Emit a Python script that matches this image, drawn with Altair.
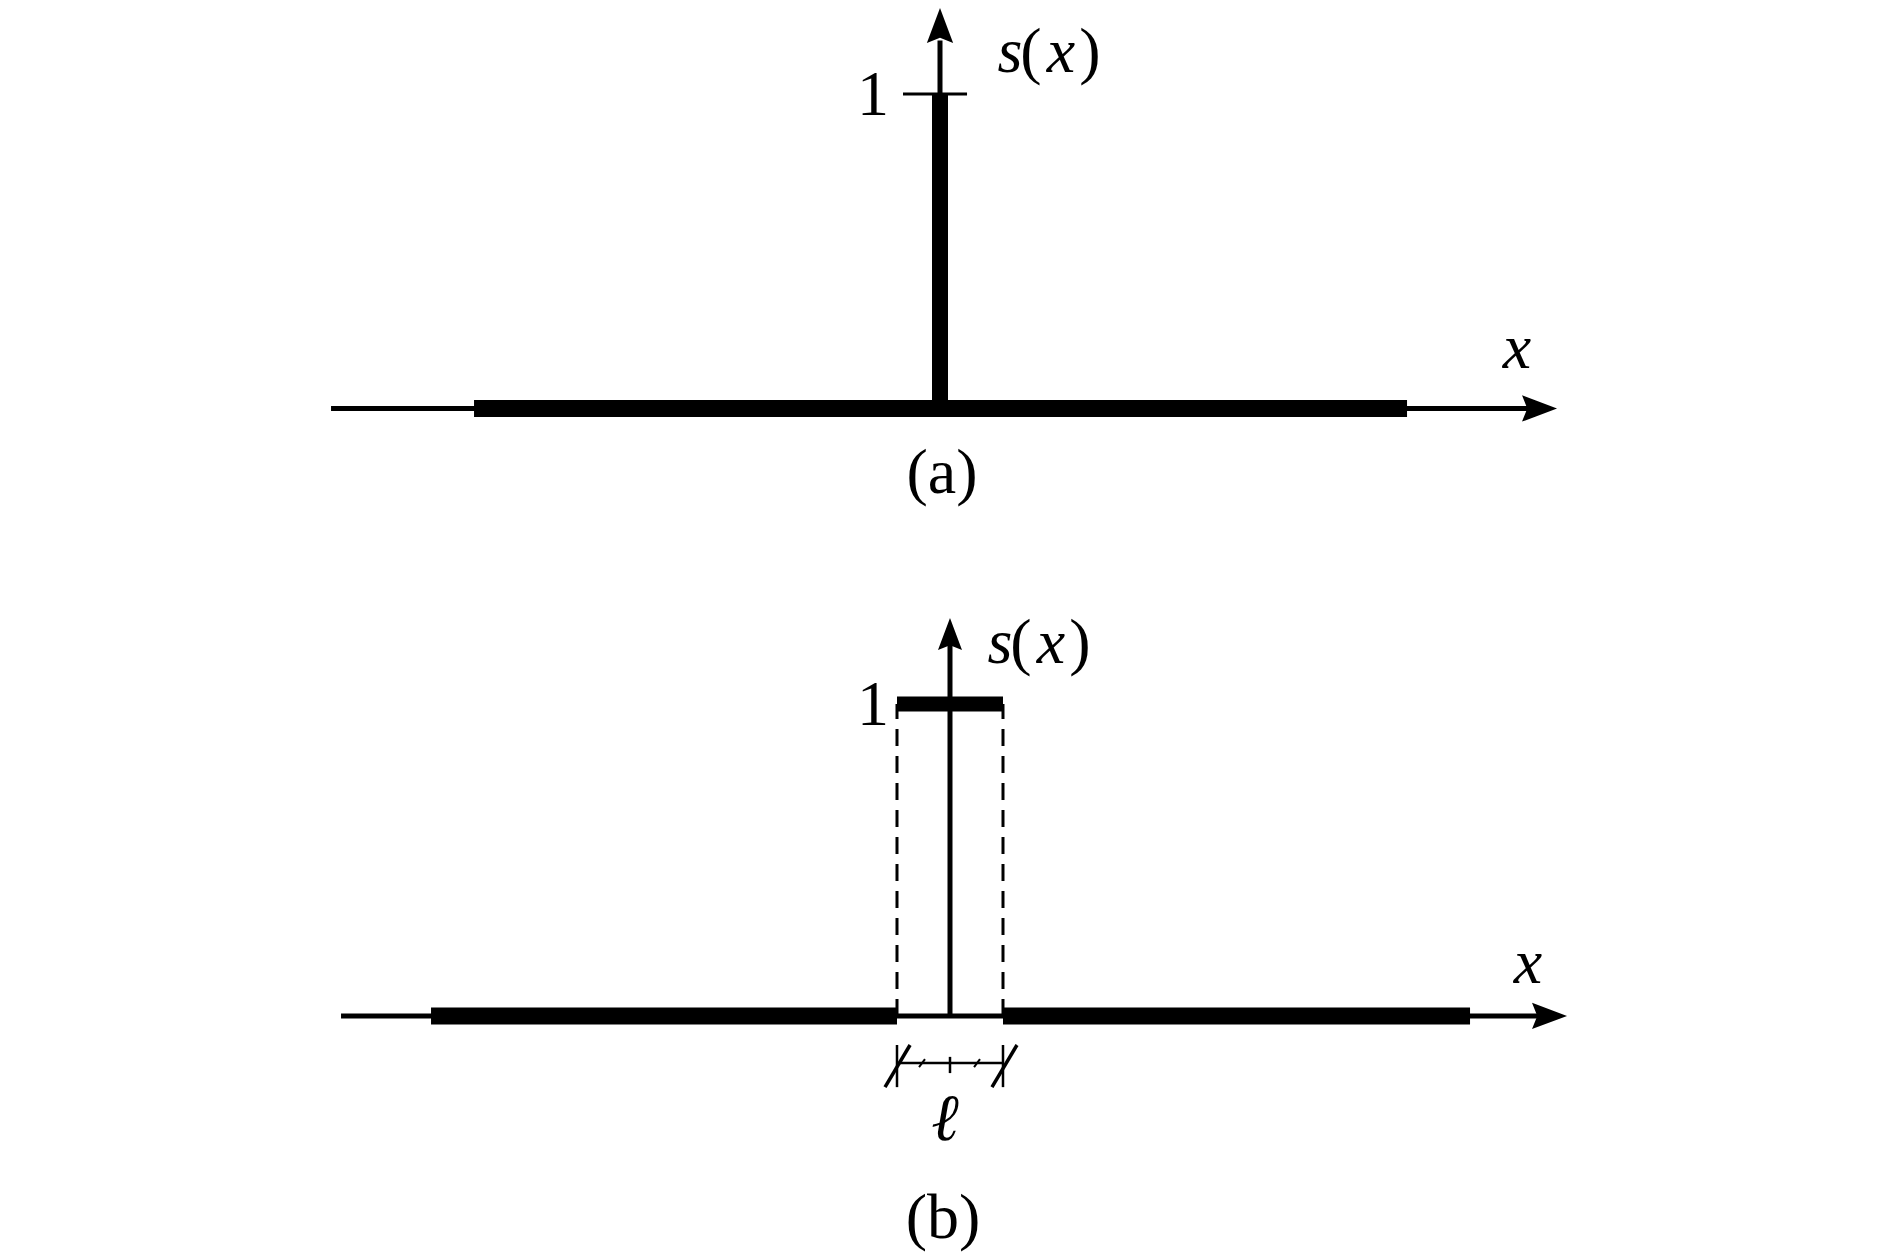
import altair as alt
import pandas as pd

# ---------------- data (x in units of the pulse width l, y = signal value s) -------------
# Panel (a): impulse-like spike of height 1
a_axis_line = [(-5.745, 5.566, 0.0, 0.0)]            # thin x axis (x, x2, y, y2)
a_thick = [(-4.396, 4.406, 0.0, 0.0)]                 # thick support segment
a_spike = [(0.0, 0.0, 0.0, 1.0)]                      # s(0)=1 spike
a_vaxis = [(0.0, 0.0, 0.0, 1.17)]                     # thin vertical axis
a_tick = [(-0.349, 0.255, 1.0, 1.0)]                  # tick at level 1
a_arrow_right = [(5.821, 0.0)]
a_arrow_up = [(0.0, 1.2734)]
a_labels_num = [(-0.481, 0.933, "1")]
a_sx_anchor = [(0.547, 1.070)]
a_xlabel = [(5.443, 0.1288, "x")]
a_caption = [(0.019, -0.2687, "(a)")]
a_xdom = [-8.7925, 8.8868]
a_ydom = [-0.4817, 1.2734]

# Panel (b): rectangular pulse of width l and height 1
b_axis_line = [(-5.745, 5.566, 0.0, 0.0)]
b_thick = [(-4.896, -0.5, 0.0, 0.0), (0.5, 4.906, 0.0, 0.0)]
b_top = [(-0.5, 0.5, 1.0, 1.0)]
b_dashed = [(-0.5, -0.5, 0.0, 1.0), (0.5, 0.5, 0.0, 1.0)]
b_vaxis = [(0.0, 0.0, 0.0, 1.189)]
b_dim = [(-0.5, 0.5, -0.151, -0.151),
         (-0.5, -0.5, -0.093, -0.228), (0.5, 0.5, -0.093, -0.228),
         (0.0, 0.0, -0.131, -0.183)]
b_slash = [(-0.613, -0.377, -0.228, -0.093), (0.396, 0.632, -0.228, -0.093)]
b_small = [(-0.292, -0.236, -0.164, -0.138), (0.227, 0.283, -0.164, -0.138)]
b_arrow_right = [(5.821, 0.0)]
b_arrow_up = [(0.0, 1.2756)]
b_labels_num = [(-0.575, 0.933, "1")]
b_sx_anchor = [(0.358, 1.131)]
b_xlabel = [(5.453, 0.106, "x")]
b_ell = [(-0.047, -0.397, "ℓ")]
b_caption = [(-0.066, -0.712, "(b)")]
b_xdom = [-8.8868, 8.7925]
b_ydom = [-0.7532, 1.4615]

FONT = "Liberation Serif, Times New Roman, serif"
FS = 64
ARROW_R = "M 1 0 L -1 -0.75 L -0.7 0 L -1 0.75 Z"
ARROW_U = "M 0 -1 L -0.75 1 L 0 0.7 L 0.75 1 Z"


def seg_df(rows):
    return pd.DataFrame(rows, columns=["x", "x2", "y", "y2"])


def pt_df(rows):
    return pd.DataFrame(rows, columns=["x", "y"])


def txt_df(rows):
    return pd.DataFrame(rows, columns=["x", "y", "t"])


def panel(xdom, ydom, width, height, parts):
    xs = alt.Scale(domain=xdom, zero=False, nice=False)
    ys = alt.Scale(domain=ydom, zero=False, nice=False)

    def seg(rows, w, dash=None):
        kw = dict(color="black", strokeWidth=w, strokeCap="butt")
        if dash:
            kw["strokeDash"] = dash
        return alt.Chart(seg_df(rows)).mark_rule(**kw).encode(
            x=alt.X("x:Q", scale=xs, axis=None), x2="x2:Q",
            y=alt.Y("y:Q", scale=ys, axis=None), y2="y2:Q")

    def arrow(rows, shape, xo=0, yo=0, size=1225):
        return alt.Chart(pt_df(rows)).mark_point(
            shape=shape, filled=True, size=size, color="black", opacity=1,
            strokeWidth=0, xOffset=xo, yOffset=yo).encode(
            x=alt.X("x:Q", scale=xs, axis=None), y=alt.Y("y:Q", scale=ys, axis=None))

    def txt(rows, align="center", style="normal", fs=FS, dx=0):
        return alt.Chart(txt_df(rows)).mark_text(
            font=FONT, fontSize=fs, fontStyle=style, align=align,
            baseline="alphabetic", color="black", dx=dx).encode(
            x=alt.X("x:Q", scale=xs, axis=None), y=alt.Y("y:Q", scale=ys, axis=None),
            text="t:N")

    layers = []
    for p in parts:
        kind = p[0]
        if kind == "seg":
            layers.append(seg(*p[1:]))
        elif kind == "arrow":
            layers.append(arrow(*p[1:]))
        elif kind == "txt":
            layers.append(txt(p[1], **p[2]))
        elif kind == "sx":
            x0, y0 = p[1][0]
            layers.append(txt([(x0, y0, "s")], align="center", style="italic", dx=12))
            layers.append(txt([(x0, y0, "(")], align="center", dx=33))
            layers.append(txt([(x0, y0, "x")], align="center", style="italic", dx=63))
            layers.append(txt([(x0, y0, ")")], align="center", dx=92))
    return alt.layer(*layers).properties(width=width, height=height)


panel_a = panel(a_xdom, a_ydom, 1874, 552, [
    ("seg", a_axis_line, 5),
    ("seg", a_thick, 17),
    ("seg", a_vaxis, 5),
    ("seg", a_spike, 16),
    ("seg", a_tick, 3),
    ("arrow", a_arrow_right, ARROW_R, -17.5, 0, 1225),
    ("arrow", a_arrow_up, ARROW_U, 0, 17.5, 1225),
    ("txt", a_labels_num, dict(align="right")),
    ("sx", a_sx_anchor),
    ("txt", a_xlabel, dict(style="italic")),
    ("txt", a_caption, dict()),
])

panel_b = panel(b_xdom, b_ydom, 1874, 691, [
    ("seg", b_axis_line, 5),
    ("seg", b_thick, 17),
    ("seg", b_dashed, 3, [17, 10]),
    ("seg", b_vaxis, 5),
    ("seg", b_top, 15),
    ("seg", b_dim, 2.5),
    ("seg", b_slash, 3.5),
    ("seg", b_small, 2),
    ("arrow", b_arrow_right, ARROW_R, -17.5, 0, 1225),
    ("arrow", b_arrow_up, ARROW_U, 0, 16, 1024),
    ("txt", b_labels_num, dict(align="right")),
    ("sx", b_sx_anchor),
    ("txt", b_xlabel, dict(style="italic")),
    ("txt", b_ell, dict(fs=66, style="italic")),
    ("txt", b_caption, dict()),
])

chart = alt.vconcat(panel_a, panel_b, spacing=0).properties(
    padding=0, background="white", autosize=alt.AutoSizeParams(type="pad")
).configure_view(stroke="transparent", strokeWidth=0)

chart.save("out.html", embed_options={"renderer": "svg", "actions": False})
